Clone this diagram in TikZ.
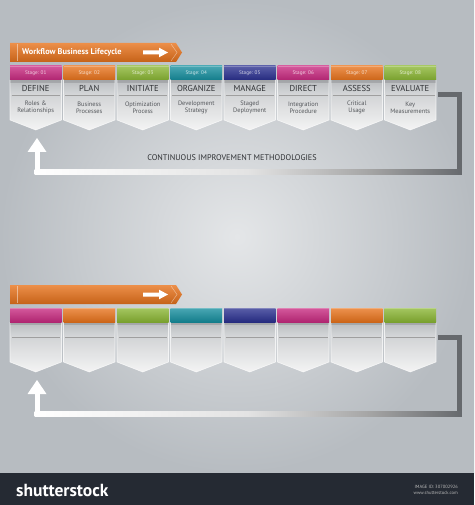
\documentclass[tikz,border=0pt]{standalone}
\usepackage{fontspec}
\setmainfont{PT Sans}
\definecolor{bgin}{HTML}{E4E6E8}
\definecolor{bgout}{HTML}{B7BCC1}
\definecolor{barbg}{HTML}{252A33}
\definecolor{cMag}{HTML}{C82A80}
\definecolor{cOra}{HTML}{E8731C}
\definecolor{cGrn}{HTML}{8AB634}
\definecolor{cTea}{HTML}{168E9E}
\definecolor{cNav}{HTML}{2B3190}
\definecolor{loopdark}{HTML}{66696D}
\definecolor{bandtop}{HTML}{B9BCBF}
\definecolor{bandbot}{HTML}{D6D8DA}
\definecolor{bodytop}{HTML}{D2D4D6}
\definecolor{bodybot}{HTML}{F4F4F4}
\definecolor{txtdark}{HTML}{2E3033}
\definecolor{txtmid}{HTML}{55585C}
\pgfdeclarehorizontalshading{loopgrad}{100bp}{color(0bp)=(white); color(25bp)=(white); color(50bp)=(white!78!gray); color(64bp)=(gray!70); color(75bp)=(loopdark); color(100bp)=(loopdark)}
\tikzset{
  stagetxt/.style={text=white, opacity=0.75, font=\fontsize{5.2}{5.5}\selectfont, inner sep=0},
  titletxt/.style={text=txtdark, font=\fontsize{8.6}{9}\selectfont, inner sep=0},
  desctxt/.style={text=txtmid, font=\fontsize{6.4}{7.2}\selectfont, inner sep=0, align=center},
  bannertxt/.style={text=white, font=\bfseries\fontsize{8.3}{9}\selectfont, inner sep=0, anchor=west},
  looptxt/.style={text=txtdark, font=\fontsize{8.2}{9}\selectfont, inner sep=0},
}
\begin{document}
\begin{tikzpicture}[x=1pt,y=-1pt]
\useasboundingbox (0,0) rectangle (474,505);
% background
\shade[inner color=bgin, outer color=bgout] (0,0) rectangle (474,473);
\foreach \off/\t in {0/t,242/b}{
  % banner
  \pgfmathsetmacro\ba{43+\off}
  \pgfmathsetmacro\bm{52.5+\off}
  \pgfmathsetmacro\bb{62+\off}
  \shade[top color=cOra!80!white, bottom color=cOra!85!black] (10,\ba) -- (176,\ba) -- (182,\bm) -- (176,\bb) -- (10,\bb) -- cycle;
  \draw[white, opacity=0.45, line width=0.5] (17,\ba+1) -- (17,\bb-1);
  \draw[white, opacity=0.45, line width=0.5] (171,\ba+1) -- (177,\bm) -- (171,\bb-1);
  \fill[white] (143,\bm-2) -- (159,\bm-2) -- (159,\bm-4.8) -- (168,\bm) -- (159,\bm+4.8) -- (159,\bm+2) -- (143,\bm+2) -- cycle;
  \node[bannertxt] (\t-banner) at (22,\bm) {\ifnum\off=0 Workflow Business Lifecycle\fi};
  % columns
  \foreach \i/\col/\ttl/\la/\lb in {1/cMag/DEFINE/Roles \&/Relationships,2/cOra/PLAN/Business/Processes,3/cGrn/INITIATE/Optimization/Process,4/cTea/ORGANIZE/Development/Strategy,5/cNav/MANAGE/Staged/Deployment,6/cMag/DIRECT/Integration/Procedure,7/cOra/ASSESS/Critical/Usage,8/cGrn/EVALUATE/Key/Measurements}{
    \pgfmathsetmacro\xa{10+53.5*(\i-1)}
    \pgfmathsetmacro\xb{\xa+51.5}
    \pgfmathsetmacro\xc{\xa+25.75}
    \pgfmathsetmacro\ya{66+\off}
    \pgfmathsetmacro\yb{80+\off}
    \pgfmathsetmacro\yc{95+\off}
    \pgfmathsetmacro\yd{120+\off}
    \pgfmathsetmacro\ye{130+\off}
    % body
    \shade[top color=bodytop, bottom color=bodybot] (\xa,\yc) -- (\xb,\yc) -- (\xb,\yd) -- (\xc,\ye) -- (\xa,\yd) -- cycle;
    % title band
    \shade[top color=bandtop, bottom color=bandbot] (\xa,\yb) rectangle (\xb,\yc);
    \fill[black, opacity=0.12] (\xa,\yb) rectangle (\xb,\yb+3);
    \draw[gray!75, line width=0.5] (\xa+1.5,\yc) -- (\xb-1.5,\yc);
    \draw[white, opacity=0.7, line width=0.6] (\xa,\yb) -- (\xa,\yd) -- (\xc,\ye) -- (\xb,\yd) -- (\xb,\yb);
    % coloured bar
    \shade[top color=\col!78!white, bottom color=\col!88!black] (\xa,\ya) rectangle (\xb,\yb);
    \fill[white, opacity=0.25] (\xa,\ya) rectangle (\xb,\ya+1.2);
    \ifnum\off=0
      \node[stagetxt] (\t-s\i) at (\xc,{(\ya+\yb)/2}) {Stage: 0\i};
      \node[titletxt] (\t-h\i) at (\xc,\yb+8) {\ttl};
      \node[desctxt] (\t-d\i) at (\xc,\yc+12.5) {\la\\\lb};
    \fi
  }
  % feedback loop
  \pgfmathsetmacro\la{92.5+\off}
  \pgfmathsetmacro\lb{97.5+\off}
  \pgfmathsetmacro\lc{169.5+\off}
  \pgfmathsetmacro\ld{174.5+\off}
  \pgfmathsetmacro\le{151+\off}
  \pgfmathsetmacro\lf{138+\off}
  \coordinate (\t-loopA) at (438,\la);
  \coordinate (\t-loopB) at (461.5,\ld);
  \coordinate (\t-loopC) at (34.5,\lc);
  \fill[loopdark] (\t-loopA) rectangle (461.5,\lb);
  \fill[loopdark] (456.5,\la) rectangle (\t-loopB);
  \shade[shading=loopgrad] (\t-loopC) rectangle (\t-loopB);
  \fill[white] (34.5,\le) rectangle (39.5,\ld);
  \coordinate (\t-tip) at (37,\lf);
  \fill[white] (27.5,\le+1) -- (\t-tip) -- (46.5,\le+1) -- cycle;
}
\node[looptxt] (loop-label) at (232,158) {CONTINUOUS IMPROVEMENT METHODOLOGIES};
% footer bar
\fill[barbg] (0,473) rectangle (474,505);
\node[text=white, font=\bfseries\fontsize{17.5}{18}\selectfont, anchor=west, inner sep=0] (brand) at (16,490) {shutterstock};
\node[text=gray!55, font=\fontsize{4.6}{5}\selectfont, anchor=east, inner sep=0] (imgid) at (458,486.5) {IMAGE ID: 307002926};
\node[text=gray!55, font=\fontsize{4.6}{5}\selectfont, anchor=east, inner sep=0] (url) at (458,493) {www.shutterstock.com};
\end{tikzpicture}
\end{document}
